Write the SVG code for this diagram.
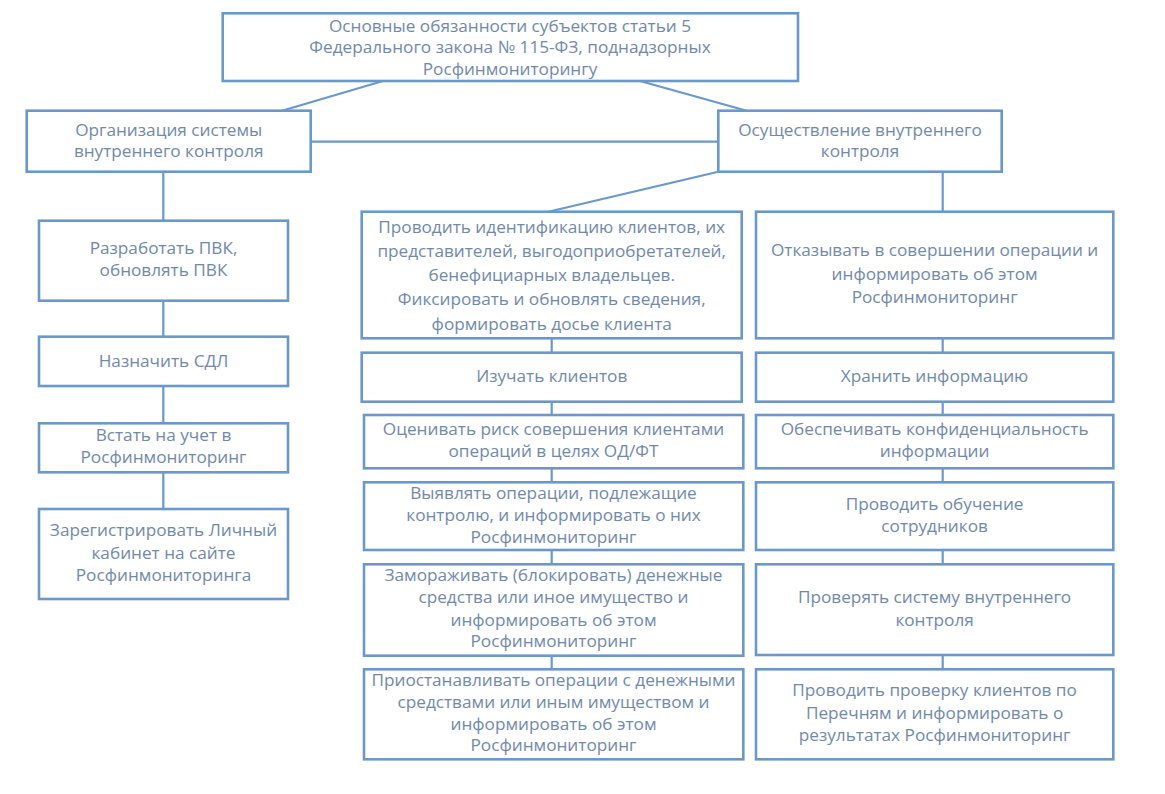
<svg xmlns="http://www.w3.org/2000/svg" width="1165" height="794" viewBox="0 0 1165 794">
<style>
.box{fill:#ffffff;stroke:#6b98cb;stroke-width:2.6}
.ln{stroke:#6b98cb;stroke-width:2.2;fill:none}
text{font-family:"Open Sans","Noto Sans","DejaVu Sans",sans-serif;font-size:17.2px;fill:#7189ab;text-anchor:middle}
</style>
<rect width="1165" height="794" fill="#ffffff"/>
<g id="connectors">
<line class="ln" x1="383" y1="81" x2="282" y2="110.7"/>
<line class="ln" x1="640" y1="81" x2="746.7" y2="110.7"/>
<line class="ln" x1="310.7" y1="141.7" x2="718.3" y2="141.7"/>
<line class="ln" x1="163.3" y1="171.7" x2="163.3" y2="220.7"/>
<line class="ln" x1="163.3" y1="300.7" x2="163.3" y2="336.7"/>
<line class="ln" x1="163.3" y1="386" x2="163.3" y2="423.3"/>
<line class="ln" x1="163.3" y1="472.3" x2="163.3" y2="509"/>
<line class="ln" x1="718.3" y1="171.7" x2="548.3" y2="211.7"/>
<line class="ln" x1="551.7" y1="338.3" x2="551.7" y2="352.7"/>
<line class="ln" x1="551.7" y1="401.7" x2="551.7" y2="415"/>
<line class="ln" x1="551.7" y1="468.3" x2="551.7" y2="482.3"/>
<line class="ln" x1="551.7" y1="550" x2="551.7" y2="564.3"/>
<line class="ln" x1="551.7" y1="655.7" x2="551.7" y2="669.3"/>
<line class="ln" x1="942.7" y1="171.7" x2="942.7" y2="211.7"/>
<line class="ln" x1="942.7" y1="338.3" x2="942.7" y2="352.7"/>
<line class="ln" x1="942.7" y1="401.7" x2="942.7" y2="415"/>
<line class="ln" x1="942.7" y1="468.3" x2="942.7" y2="482.3"/>
<line class="ln" x1="942.7" y1="550" x2="942.7" y2="564.3"/>
<line class="ln" x1="942.7" y1="655" x2="942.7" y2="669.3"/>
</g>
<g id="root">
<rect class="box" x="222.7" y="13.3" width="575.3" height="67.7"/>
<text x="510" y="31.5">Основные обязанности субъектов статьи 5</text>
<text x="510" y="53">Федерального закона № 115-ФЗ, поднадзорных</text>
<text x="510" y="74.6">Росфинмониторингу</text>
</g>
<g id="org">
<rect class="box" x="26.7" y="110.7" width="284" height="61"/>
<text x="168.7" y="135.6">Организация системы</text>
<text x="168.7" y="157.3">внутреннего контроля</text>
</g>
<g id="impl">
<rect class="box" x="718.3" y="110.7" width="283.4" height="61"/>
<text x="860" y="135.6">Осуществление внутреннего</text>
<text x="860" y="157.3">контроля</text>
</g>
<g id="l1">
<rect class="box" x="39" y="220.7" width="249" height="80"/>
<text x="163.5" y="253.8">Разработать ПВК,</text>
<text x="163.5" y="275.6">обновлять ПВК</text>
</g>
<g id="l2">
<rect class="box" x="39" y="336.7" width="249" height="49.3"/>
<text x="163.5" y="366.9">Назначить СДЛ</text>
</g>
<g id="l3">
<rect class="box" x="39" y="423.3" width="249" height="49"/>
<text x="163.5" y="441.3">Встать на учет в</text>
<text x="163.5" y="462.9">Росфинмониторинг</text>
</g>
<g id="l4">
<rect class="box" x="39" y="509" width="249" height="90"/>
<text x="163.5" y="535.6">Зарегистрировать Личный</text>
<text x="163.5" y="558.6">кабинет на сайте</text>
<text x="163.5" y="581.3">Росфинмониторинга</text>
</g>
<g id="m1">
<rect class="box" x="361.7" y="211.7" width="380" height="126.6"/>
<text x="551.7" y="233">Проводить идентификацию клиентов, их</text>
<text x="551.7" y="257.3">представителей, выгодоприобретателей,</text>
<text x="551.7" y="281.3">бенефициарных владельцев.</text>
<text x="551.7" y="305.3">Фиксировать и обновлять сведения,</text>
<text x="551.7" y="329.6">формировать досье клиента</text>
</g>
<g id="m2">
<rect class="box" x="361.7" y="352.7" width="380" height="49"/>
<text x="551.7" y="381.9">Изучать клиентов</text>
</g>
<g id="m3">
<rect class="box" x="364" y="415" width="379.3" height="53.3"/>
<text x="553.5" y="434.6">Оценивать риск совершения клиентами</text>
<text x="553.5" y="456.9">операций в целях ОД/ФТ</text>
</g>
<g id="m4">
<rect class="box" x="364" y="482.3" width="379.3" height="67.7"/>
<text x="553.5" y="498.6">Выявлять операции, подлежащие</text>
<text x="553.5" y="520.6">контролю, и информировать о них</text>
<text x="553.5" y="542.9">Росфинмониторинг</text>
</g>
<g id="m5">
<rect class="box" x="364" y="564.3" width="379.3" height="91.4"/>
<text x="553.5" y="580.6">Замораживать (блокировать) денежные</text>
<text x="553.5" y="602.9">средства или иное имущество и</text>
<text x="553.5" y="625.6">информировать об этом</text>
<text x="553.5" y="647.3">Росфинмониторинг</text>
</g>
<g id="m6">
<rect class="box" x="364" y="669.3" width="379.3" height="90"/>
<text x="553.5" y="685.6">Приостанавливать операции с денежными</text>
<text x="553.5" y="707.9">средствами или иным имуществом и</text>
<text x="553.5" y="729.6">информировать об этом</text>
<text x="553.5" y="751.3">Росфинмониторинг</text>
</g>
<g id="r1">
<rect class="box" x="756" y="211.7" width="357.3" height="126.6"/>
<text x="934.6" y="256.3">Отказывать в совершении операции и</text>
<text x="934.6" y="279.8">информировать об этом</text>
<text x="934.6" y="303.3">Росфинмониторинг</text>
</g>
<g id="r2">
<rect class="box" x="756" y="352.7" width="357.3" height="49"/>
<text x="934.6" y="381.9">Хранить информацию</text>
</g>
<g id="r3">
<rect class="box" x="756" y="415" width="357.3" height="53.3"/>
<text x="934.6" y="434.6">Обеспечивать конфиденциальность</text>
<text x="934.6" y="456.9">информации</text>
</g>
<g id="r4">
<rect class="box" x="756" y="482.3" width="357.3" height="67.7"/>
<text x="934.6" y="509.6">Проводить обучение</text>
<text x="934.6" y="531.9">сотрудников</text>
</g>
<g id="r5">
<rect class="box" x="756" y="564.3" width="357.3" height="90.7"/>
<text x="934.6" y="602.9">Проверять систему внутреннего</text>
<text x="934.6" y="626.3">контроля</text>
</g>
<g id="r6">
<rect class="box" x="756" y="669.3" width="357.3" height="90"/>
<text x="934.6" y="696.3">Проводить проверку клиентов по</text>
<text x="934.6" y="718.9">Перечням и информировать о</text>
<text x="934.6" y="741.3">результатах Росфинмониторинг</text>
</g>
</svg>
